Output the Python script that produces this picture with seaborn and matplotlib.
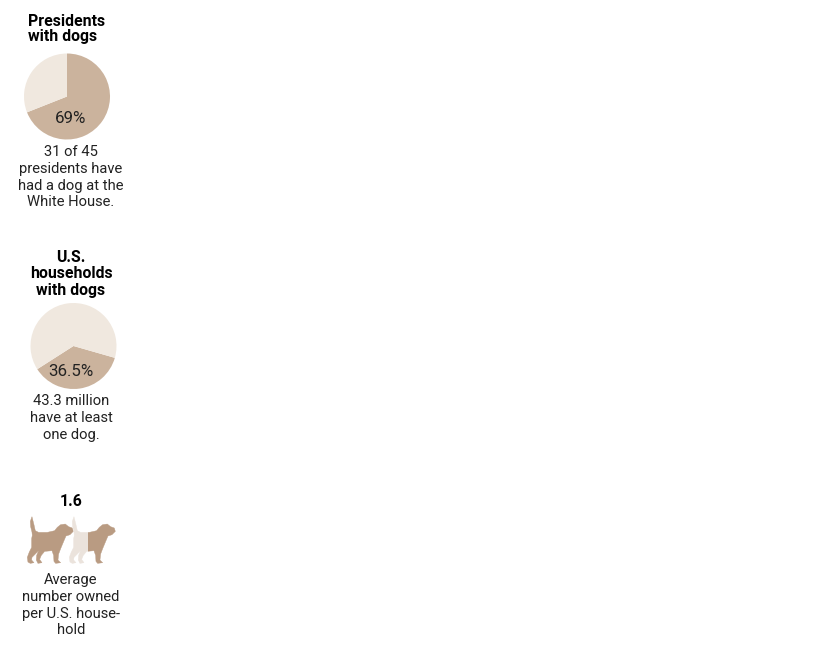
import matplotlib
matplotlib.use("Agg")
import matplotlib.pyplot as plt
import seaborn as sns
from matplotlib.patches import Polygon, Rectangle

# =========================
# DATA
# =========================

president_share = [69, 31]
household_share = [36.5, 63.5]
dogs_per_household = 1.6

president_title = ["Presidents", "with dogs"]
president_note = ["31 of 45", "presidents have", "had a dog at the", "White House."]
household_title = ["U.S.", "households", "with dogs"]
household_note = ["43.3 million", "have at least", "one dog."]
average_note = ["Average", "number owned", "per U.S. house-", "hold"]

# dog icon outline, traced, in icon units (0-138 wide, 0-140 high)
dog_outline = [
    (14, 0), (9, 14), (10, 30), (14, 46), (15, 56), (13, 66), (13, 92), (6, 106),
    (0, 122), (2, 136), (9, 140), (20, 138), (13, 130), (14, 122), (24, 112), (34, 102),
    (28, 116), (27, 130), (32, 140), (44, 138), (37, 128), (42, 116), (52, 104), (74, 102),
    (79, 116), (80, 134), (85, 140), (100, 138), (92, 130), (94, 112), (100, 96), (110, 72),
    (116, 58), (128, 54), (138, 44), (135, 34), (124, 30), (114, 22), (100, 24), (90, 32),
    (82, 42), (60, 47), (34, 47), (24, 42), (20, 24),
]

# =========================
# COLOURS / STYLE
# =========================

sns.set_theme(style="white")
plt.rcParams["font.family"] = ["Roboto", "DejaVu Sans"]

TAN = "#cbb39d"
PALE = "#f0e8df"
DOG_TAN = "#b99b82"
DOG_PALE = "#ebe3dc"
INK = "#222222"

W, H = 820, 651
fig = plt.figure(figsize=(W / 100, H / 100), dpi=100, facecolor="white")

# whole figure axes in pixel coordinates, for text and icons, kept above the pies
page = fig.add_axes([0, 0, 1, 1], zorder=5)
page.set_xlim(0, W)
page.set_ylim(H, 0)
page.axis("off")


def draw_pie(values, cx, cy, r, start):
    ax = fig.add_axes([(cx - r) / W, 1 - (cy + r) / H, 2 * r / W, 2 * r / H], zorder=1)
    ax.pie(values, colors=[TAN, PALE], startangle=start, counterclock=False, radius=1,
           wedgeprops={"linewidth": 0})
    ax.set_xlim(-1, 1)
    ax.set_ylim(-1, 1)


def draw_lines(lines, x, ys, weight="normal", ha="center", size=10.6, color=INK):
    for line, y in zip(lines, ys):
        page.text(x, y, line, ha=ha, va="center", fontsize=size, fontweight=weight, color=color)


def draw_dog(x0, y0, color, clip_from=None, clip_to=None):
    scale = 1 / 3
    pts = [(x0 + px * scale, y0 + py * scale) for px, py in dog_outline]
    dog = Polygon(pts, closed=True, facecolor=color, edgecolor=color, linewidth=0.3, joinstyle="round")
    page.add_patch(dog)
    if clip_from is not None:
        box = Rectangle((clip_from, y0 - 2), clip_to - clip_from, 52, transform=page.transData)
        dog.set_clip_path(box)


# =========================
# PRESIDENTS
# =========================

draw_lines(president_title, 28, [21, 37], weight="bold", ha="left", size=11.4, color="#000000")
draw_pie(president_share, 67, 96.5, 43, 90)
draw_lines(["69%"], 70.5, [118.5], size=12.2)
draw_lines(president_note, 71, [152, 169, 186, 202])

# =========================
# HOUSEHOLDS
# =========================

draw_lines(household_title, 71, [257, 274, 291], weight="bold", size=11.4, color="#000000")
draw_pie(household_share, 73.5, 346, 43, -16)
draw_lines(["36.5%"], 71, [371.5], size=12.2)
draw_lines(household_note, 71, [401, 418, 435])

# =========================
# AVERAGE NUMBER OF DOGS
# =========================

draw_lines([f"{dogs_per_household}"], 71, [501], weight="bold", size=11.4, color="#000000")
dog_left, dog_width = 69.3, 46
split = dog_left + dog_width * (1 - (dogs_per_household - 1))
draw_dog(27.3, 516.7, DOG_TAN)
draw_dog(dog_left, 516.7, DOG_PALE, dog_left - 1, split)
draw_dog(dog_left, 516.7, DOG_TAN, split, dog_left + dog_width + 1)
draw_lines(average_note, 71, [580, 597, 614, 630])

plt.savefig("out.png", dpi=100)
